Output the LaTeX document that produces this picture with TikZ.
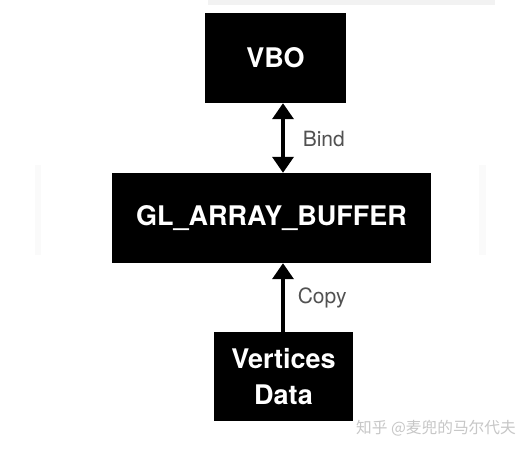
\documentclass[tikz,border=0pt]{standalone}
\usepackage{fontspec}
\setmainfont{TeX Gyre Heros}
\newfontfamily\cjk{Noto Sans CJK SC}
\usetikzlibrary{positioning}
\usetikzlibrary{arrows.meta}
\tikzset{
        % Black boxes
        blackbox/.style={rectangle, fill=black, text=white, align=center, inner sep=0pt,
                font=\fontsize{27}{36}\selectfont\bfseries},
        % Arrows between boxes
        linkarrow/.style={line width=3.6pt, black, -{Triangle[width=21pt,length=16pt]}},
        % Labels beside the arrows
        linklabel/.style={text=black!68, inner sep=0pt, anchor=west, font=\fontsize{21}{24}\selectfont},
        % Watermark
        watermark/.style={text=black!22, inner sep=0pt, anchor=east, font=\cjk\fontsize{15.7}{18}\selectfont}
}
\begin{document}
\begin{tikzpicture}[x=1pt, y=-1pt]
    \useasboundingbox[fill=white] (0,0) rectangle (530,450);
    % faint background strips
    \fill[black!5] (208,0) rectangle (495,5);
    \fill[black!2] (35,165) rectangle (41,255);
    \fill[black!2] (479,165) rectangle (486,255);

    \node[blackbox, minimum width=141pt, minimum height=90pt] (vbo) at (275.5,58) {VBO};
    \node[blackbox, minimum width=319pt, minimum height=90pt] (glbuf) at (271.5,218) {GL\_ARRAY\_BUFFER};
    \node[blackbox, minimum width=139pt, minimum height=89pt] (vdata) at (283.5,376.5) {Vertices\\Data};

    \draw[linkarrow, {Triangle[width=21pt,length=16pt]}-{Triangle[width=21pt,length=16pt]}]
        ([xshift=7.5pt]vbo.south) -- ([xshift=11.5pt]glbuf.north)
        node[linklabel, pos=0.5, xshift=18pt, yshift=-1pt] (bind) {Bind};
    \draw[linkarrow] ([xshift=-0.5pt]vdata.north) -- ([xshift=11.5pt]glbuf.south)
        node[linklabel, pos=0.5, xshift=13pt] (copy) {Copy};

    \node[watermark] (mark) at (516,428) {知乎 @麦兜的马尔代夫};
\end{tikzpicture}
\end{document}
